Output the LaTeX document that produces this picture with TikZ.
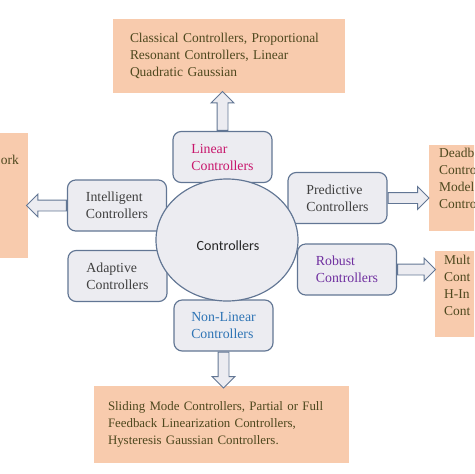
\documentclass[tikz,border=0pt]{standalone}
\usepackage{fontspec}
\setmainfont{Liberation Serif}
\newfontfamily\centerfont{Carlito}
\usetikzlibrary{shapes.geometric,shapes.arrows}

\newlength\pxu
\setlength\pxu{0.03cm}

\definecolor{boxfill}{RGB}{236,236,241}
\definecolor{boxline}{RGB}{98,118,148}
\definecolor{peach}{RGB}{248,203,173}
\definecolor{peachtext}{RGB}{78,72,30}
\definecolor{labelgray}{RGB}{64,64,64}
\definecolor{linmag}{RGB}{200,22,108}
\definecolor{nonlinblue}{RGB}{46,116,181}
\definecolor{robpurple}{RGB}{112,48,160}

\tikzset{
  ctrlbox/.style={draw=boxline, fill=boxfill, line width=1pt, rounded corners=7pt,
    minimum width=99\pxu, minimum height=51\pxu, align=left, inner sep=0pt,
    font=\fontsize{11.8}{14.5}\selectfont, text=labelgray},
  peachbox/.style={fill=peach, inner sep=0pt, align=left,
    font=\fontsize{11.5}{14.5}\selectfont, text=peachtext},
  peachcut/.style={text=peachtext, font=\fontsize{11.5}{14.5}\selectfont, align=left, inner sep=0pt},
  blockarrow/.style={single arrow, draw=boxline, fill=boxfill, line width=0.8pt,
    inner sep=5\pxu, minimum width=22\pxu, single arrow head extend=6\pxu,
    single arrow tip angle=90, anchor=tail}
}

\begin{document}
\begin{tikzpicture}[x=\pxu,y=-\pxu]
		\useasboundingbox (0,0) rectangle (474,474);
		\clip (0,0) rectangle (474,474);
		
		% Outer groups
		\node[peachbox, minimum width=232\pxu, minimum height=74\pxu, text width=198\pxu] (top) at (229,56)
			{Classical Controllers, Proportional\\Resonant Controllers, Linear\\Quadratic Gaussian};
		\node[peachbox, font=\fontsize{11}{14.5}\selectfont, minimum width=255\pxu, minimum height=77\pxu, text width=227\pxu] (bottom) at (221.5,424.5)
			{Sliding Mode Controllers, Partial or Full\\Feedback Linearization Controllers,\\Hysteresis Gaussian Controllers.};
		\node[peachbox, minimum width=60\pxu, minimum height=125\pxu] (left) at (-2,195.5) {};
		\node[peachbox, minimum width=60\pxu, minimum height=86\pxu] (right1) at (459,188) {};
		\node[peachbox, minimum width=60\pxu, minimum height=86\pxu] (right2) at (465,294) {};
		\node[peachcut, anchor=east] (lefttext) at (19,160) {ork};
		\node[peachcut, anchor=north west] (right1text) at (439,148) {Deadb\\Contro\\Model\\Contro};
		\node[peachcut, anchor=north west] (right2text) at (444,255) {Mult\\Cont\\H-In\\Cont};
		
		% Controller types
		\node[ctrlbox, text=linmag] (lin) at (222.5,157) {Linear\\Controllers};
		\node[ctrlbox] (pred) at (337.5,198) {Predictive\\Controllers};
		\node[ctrlbox, text=robpurple] (rob) at (347,269.5) {Robust\\Controllers};
		\node[ctrlbox] (intel) at (117,205.5) {Intelligent\\Controllers};
		\node[ctrlbox] (adap) at (117.5,276) {Adaptive\\Controllers};
		\node[ctrlbox, text=nonlinblue] (nonlin) at (223.5,325.5) {Non-Linear\\Controllers};
		
		% Centre
		\node[ellipse, draw=boxline, fill=boxfill, line width=1pt, minimum width=142\pxu, minimum height=122\pxu] (ctrl) at (227,240) {};
		\node[font=\centerfont\fontsize{12}{14}\selectfont, text=black!85] (ctrltext) at (228,246) {Controllers};
		
		% Arrows
		\node[blockarrow, shape border rotate=90, minimum height=39\pxu] (upar) at (lin.north) {};
		\node[blockarrow, shape border rotate=0, minimum height=41\pxu] (predar) at (pred.east) {};
		\node[blockarrow, shape border rotate=0, minimum height=38\pxu] (robar) at (rob.east) {};
		\node[blockarrow, shape border rotate=180, minimum height=40\pxu] (intelar) at (intel.west) {};
		\node[blockarrow, shape border rotate=270, minimum height=36\pxu] (downar) at (nonlin.south) {};
		\end{tikzpicture}
\end{document}
